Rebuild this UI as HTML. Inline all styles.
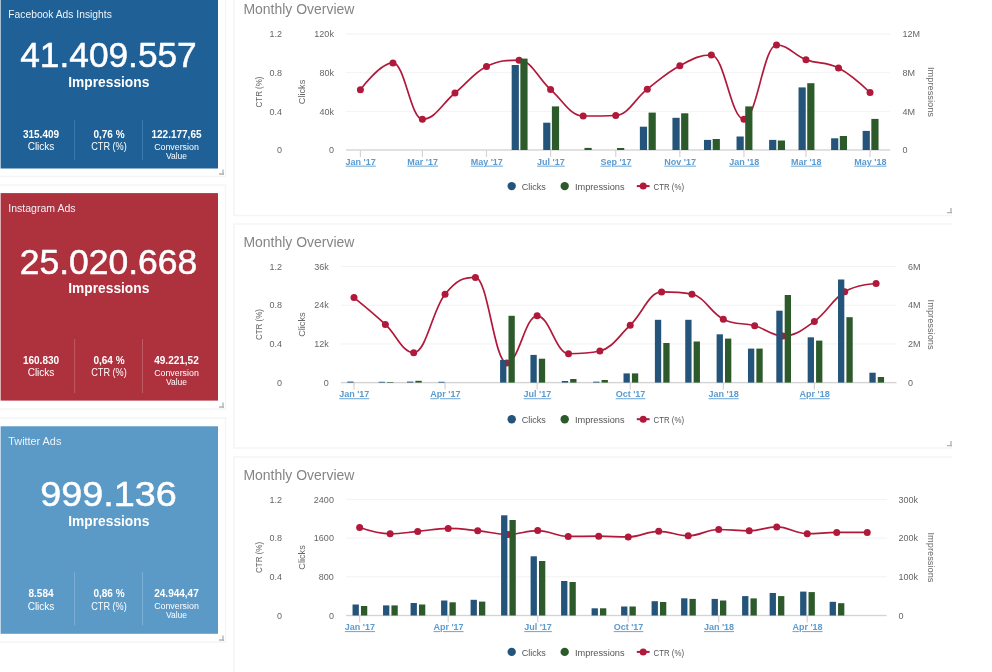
<!DOCTYPE html><html><head><meta charset="utf-8"><style>html,body{margin:0;padding:0;background:#fff;width:992px;height:672px;overflow:hidden}svg{display:block;filter:blur(0.35px);font-family:"Liberation Sans",sans-serif}</style></head><body>
<svg width="992" height="672" viewBox="0 0 992 672">
<g fill="none" stroke="#f5f5f5" stroke-width="1.5">
<path d="M-5,176.5 H225.5 V-5"/>
<rect x="-5" y="185" width="230.5" height="224"/>
<rect x="-5" y="418" width="230.5" height="224"/>
<path d="M234,-5 V215.5 H952"/>
<path d="M952,224 H234 V448 H952"/>
<path d="M234,680 V457 H952"/>
</g>
<rect x="0.6" y="-0.5" width="217.4" height="169" fill="#1f6096"/>
<text x="8.30" y="18.10" font-size="10" fill="#eef3f8" text-anchor="start" font-weight="normal" textLength="103.5" lengthAdjust="spacingAndGlyphs" >Facebook Ads Insights</text>
<text x="108.50" y="67.10" font-size="35.5" fill="#ffffff" text-anchor="middle" font-weight="normal" textLength="176.5" lengthAdjust="spacingAndGlyphs" stroke="#ffffff" stroke-width="0.5">41.409.557</text>
<text x="108.80" y="86.50" font-size="14" fill="#ffffff" text-anchor="middle" font-weight="bold" textLength="81" lengthAdjust="spacingAndGlyphs" >Impressions</text>
<rect x="74.1" y="119.7" width="1" height="40.60000000000001" fill="#3a7bb5"/>
<rect x="142.0" y="119.7" width="1" height="40.60000000000001" fill="#3a7bb5"/>
<text x="41.00" y="137.50" font-size="10" fill="#ffffff" text-anchor="middle" font-weight="bold" >315.409</text>
<text x="41.00" y="150.30" font-size="10" fill="#ffffff" text-anchor="middle" font-weight="normal" >Clicks</text>
<text x="109.00" y="137.50" font-size="10" fill="#ffffff" text-anchor="middle" font-weight="bold" >0,76 %</text>
<text x="109.00" y="150.30" font-size="10" fill="#ffffff" text-anchor="middle" font-weight="normal" textLength="35.6" lengthAdjust="spacingAndGlyphs" >CTR (%)</text>
<text x="176.50" y="137.50" font-size="10" fill="#ffffff" text-anchor="middle" font-weight="bold" >122.177,65</text>
<text x="176.50" y="149.70" font-size="8.5" fill="#ffffff" text-anchor="middle" font-weight="normal" textLength="44.7" lengthAdjust="spacingAndGlyphs" >Conversion</text>
<text x="176.50" y="158.50" font-size="8.5" fill="#ffffff" text-anchor="middle" font-weight="normal" >Value</text>
<rect x="0.6" y="193.1" width="217.4" height="207.5" fill="#ae313e"/>
<text x="8.30" y="211.90" font-size="10" fill="#eef3f8" text-anchor="start" font-weight="normal" textLength="67.3" lengthAdjust="spacingAndGlyphs" >Instagram Ads</text>
<text x="108.50" y="273.50" font-size="35.5" fill="#ffffff" text-anchor="middle" font-weight="normal" textLength="177.5" lengthAdjust="spacingAndGlyphs" stroke="#ffffff" stroke-width="0.5">25.020.668</text>
<text x="108.80" y="293.00" font-size="14" fill="#ffffff" text-anchor="middle" font-weight="bold" textLength="81" lengthAdjust="spacingAndGlyphs" >Impressions</text>
<rect x="74.1" y="339.1" width="1" height="54.0" fill="#c05a64"/>
<rect x="142.0" y="339.1" width="1" height="54.0" fill="#c05a64"/>
<text x="41.00" y="363.50" font-size="10" fill="#ffffff" text-anchor="middle" font-weight="bold" >160.830</text>
<text x="41.00" y="376.30" font-size="10" fill="#ffffff" text-anchor="middle" font-weight="normal" >Clicks</text>
<text x="109.00" y="363.50" font-size="10" fill="#ffffff" text-anchor="middle" font-weight="bold" >0,64 %</text>
<text x="109.00" y="376.30" font-size="10" fill="#ffffff" text-anchor="middle" font-weight="normal" textLength="35.6" lengthAdjust="spacingAndGlyphs" >CTR (%)</text>
<text x="176.50" y="363.50" font-size="10" fill="#ffffff" text-anchor="middle" font-weight="bold" >49.221,52</text>
<text x="176.50" y="375.70" font-size="8.5" fill="#ffffff" text-anchor="middle" font-weight="normal" textLength="44.7" lengthAdjust="spacingAndGlyphs" >Conversion</text>
<text x="176.50" y="384.50" font-size="8.5" fill="#ffffff" text-anchor="middle" font-weight="normal" >Value</text>
<rect x="0.6" y="426.3" width="217.4" height="207.5" fill="#5b99c7"/>
<text x="8.30" y="445.00" font-size="10" fill="#eef3f8" text-anchor="start" font-weight="normal" textLength="53" lengthAdjust="spacingAndGlyphs" >Twitter Ads</text>
<text x="108.50" y="505.70" font-size="35.5" fill="#ffffff" text-anchor="middle" font-weight="normal" textLength="136.6" lengthAdjust="spacingAndGlyphs" stroke="#ffffff" stroke-width="0.5">999.136</text>
<text x="108.80" y="525.80" font-size="14" fill="#ffffff" text-anchor="middle" font-weight="bold" textLength="81" lengthAdjust="spacingAndGlyphs" >Impressions</text>
<rect x="74.1" y="572.2" width="1" height="53.19999999999993" fill="#7db0d6"/>
<rect x="142.0" y="572.2" width="1" height="53.19999999999993" fill="#7db0d6"/>
<text x="41.00" y="596.70" font-size="10" fill="#ffffff" text-anchor="middle" font-weight="bold" >8.584</text>
<text x="41.00" y="609.50" font-size="10" fill="#ffffff" text-anchor="middle" font-weight="normal" >Clicks</text>
<text x="109.00" y="596.70" font-size="10" fill="#ffffff" text-anchor="middle" font-weight="bold" >0,86 %</text>
<text x="109.00" y="609.50" font-size="10" fill="#ffffff" text-anchor="middle" font-weight="normal" textLength="35.6" lengthAdjust="spacingAndGlyphs" >CTR (%)</text>
<text x="176.50" y="596.70" font-size="10" fill="#ffffff" text-anchor="middle" font-weight="bold" >24.944,47</text>
<text x="176.50" y="608.90" font-size="8.5" fill="#ffffff" text-anchor="middle" font-weight="normal" textLength="44.7" lengthAdjust="spacingAndGlyphs" >Conversion</text>
<text x="176.50" y="617.70" font-size="8.5" fill="#ffffff" text-anchor="middle" font-weight="normal" >Value</text>
<path d="M219,174 H224 M223,175 V169.5" stroke="#b4b4b4" stroke-width="1.4" fill="none"/>
<path d="M219,407 H224 M223,408 V402.5" stroke="#b4b4b4" stroke-width="1.4" fill="none"/>
<path d="M219,640 H224 M223,641 V635.5" stroke="#b4b4b4" stroke-width="1.4" fill="none"/>
<path d="M947,212.6 H952 M951,213.6 V208.1" stroke="#b4b4b4" stroke-width="1.4" fill="none"/>
<path d="M947,445.6 H952 M951,446.6 V441.1" stroke="#b4b4b4" stroke-width="1.4" fill="none"/>
<text x="243.40" y="13.70" font-size="14" fill="#858585" text-anchor="start" font-weight="normal" textLength="111" lengthAdjust="spacingAndGlyphs" >Monthly Overview</text>
<rect x="346" y="33.50" width="544.20" height="1" fill="#f2f2f2"/>
<rect x="346" y="72.17" width="544.20" height="1" fill="#f2f2f2"/>
<rect x="346" y="110.83" width="544.20" height="1" fill="#f2f2f2"/>
<rect x="346" y="149.30" width="544.20" height="1.4" fill="#d4d4d4"/>
<text x="282.00" y="37.20" font-size="9" fill="#666666" text-anchor="end" font-weight="normal" >1.2</text>
<text x="282.00" y="75.87" font-size="9" fill="#666666" text-anchor="end" font-weight="normal" >0.8</text>
<text x="282.00" y="114.53" font-size="9" fill="#666666" text-anchor="end" font-weight="normal" >0.4</text>
<text x="282.00" y="153.20" font-size="9" fill="#666666" text-anchor="end" font-weight="normal" >0</text>
<text x="333.90" y="37.20" font-size="9" fill="#666666" text-anchor="end" font-weight="normal" >120k</text>
<text x="333.90" y="75.87" font-size="9" fill="#666666" text-anchor="end" font-weight="normal" >80k</text>
<text x="333.90" y="114.53" font-size="9" fill="#666666" text-anchor="end" font-weight="normal" >40k</text>
<text x="333.90" y="153.20" font-size="9" fill="#666666" text-anchor="end" font-weight="normal" >0</text>
<text x="902.50" y="37.20" font-size="9" fill="#666666" text-anchor="start" font-weight="normal" >12M</text>
<text x="902.50" y="75.87" font-size="9" fill="#666666" text-anchor="start" font-weight="normal" >8M</text>
<text x="902.50" y="114.53" font-size="9" fill="#666666" text-anchor="start" font-weight="normal" >4M</text>
<text x="902.50" y="153.20" font-size="9" fill="#666666" text-anchor="start" font-weight="normal" >0</text>
<text transform="translate(262.2,92.00) rotate(-90)" font-size="9" fill="#666666" text-anchor="middle" textLength="31" lengthAdjust="spacingAndGlyphs">CTR (%)</text>
<text transform="translate(304.8,92.00) rotate(-90)" font-size="9" fill="#666666" text-anchor="middle" textLength="24.5" lengthAdjust="spacingAndGlyphs">Clicks</text>
<text transform="translate(928.2,92.00) rotate(90)" font-size="9" fill="#666666" text-anchor="middle" textLength="50" lengthAdjust="spacingAndGlyphs">Impressions</text>
<rect x="359.80" y="150.00" width="1.2" height="7" fill="#d4d4d4"/>
<text x="360.70" y="164.70" font-size="9" fill="#5b9bd0" text-anchor="middle" font-weight="bold" text-decoration="underline">Jan '17</text>
<rect x="421.80" y="150.00" width="1.2" height="7" fill="#d4d4d4"/>
<text x="422.70" y="164.70" font-size="9" fill="#5b9bd0" text-anchor="middle" font-weight="bold" text-decoration="underline">Mar '17</text>
<rect x="485.90" y="150.00" width="1.2" height="7" fill="#d4d4d4"/>
<text x="486.80" y="164.70" font-size="9" fill="#5b9bd0" text-anchor="middle" font-weight="bold" text-decoration="underline">May '17</text>
<rect x="549.99" y="150.00" width="1.2" height="7" fill="#d4d4d4"/>
<text x="550.89" y="164.70" font-size="9" fill="#5b9bd0" text-anchor="middle" font-weight="bold" text-decoration="underline">Jul '17</text>
<rect x="615.14" y="150.00" width="1.2" height="7" fill="#d4d4d4"/>
<text x="616.04" y="164.70" font-size="9" fill="#5b9bd0" text-anchor="middle" font-weight="bold" text-decoration="underline">Sep '17</text>
<rect x="679.24" y="150.00" width="1.2" height="7" fill="#d4d4d4"/>
<text x="680.14" y="164.70" font-size="9" fill="#5b9bd0" text-anchor="middle" font-weight="bold" text-decoration="underline">Nov '17</text>
<rect x="743.34" y="150.00" width="1.2" height="7" fill="#d4d4d4"/>
<text x="744.24" y="164.70" font-size="9" fill="#5b9bd0" text-anchor="middle" font-weight="bold" text-decoration="underline">Jan '18</text>
<rect x="805.34" y="150.00" width="1.2" height="7" fill="#d4d4d4"/>
<text x="806.24" y="164.70" font-size="9" fill="#5b9bd0" text-anchor="middle" font-weight="bold" text-decoration="underline">Mar '18</text>
<rect x="869.44" y="150.00" width="1.2" height="7" fill="#d4d4d4"/>
<text x="870.34" y="164.70" font-size="9" fill="#5b9bd0" text-anchor="middle" font-weight="bold" text-decoration="underline">May '18</text>
<path d="M360.40,89.70 C360.40,89.70 379.94,62.90 392.97,62.90 C404.74,62.90 410.63,119.20 422.40,119.20 C435.43,119.20 441.94,103.73 454.97,93.00 C467.58,82.61 473.89,72.60 486.50,66.40 C499.53,60.20 506.04,60.20 519.07,60.20 C531.68,60.20 537.99,78.62 550.59,89.60 C563.62,100.94 570.14,116.00 583.17,116.00 C596.20,116.00 602.71,116.00 615.74,115.50 C628.35,115.00 634.66,98.98 647.27,89.20 C660.30,79.10 666.81,72.75 679.84,65.80 C692.45,59.07 698.76,55.00 711.37,55.00 C724.40,55.00 730.91,119.30 743.94,119.30 C756.97,119.30 763.49,45.00 776.52,45.00 C788.29,45.00 794.17,55.33 805.94,59.70 C818.97,64.53 825.48,61.33 838.51,68.00 C851.12,74.45 870.04,92.50 870.04,92.50" fill="none" stroke="#b0193a" stroke-width="1.7"/>
<circle cx="360.40" cy="89.70" r="3.5" fill="#b0193a"/>
<circle cx="392.97" cy="62.90" r="3.5" fill="#b0193a"/>
<circle cx="422.40" cy="119.20" r="3.5" fill="#b0193a"/>
<circle cx="454.97" cy="93.00" r="3.5" fill="#b0193a"/>
<circle cx="486.50" cy="66.40" r="3.5" fill="#b0193a"/>
<circle cx="519.07" cy="60.20" r="3.5" fill="#b0193a"/>
<circle cx="550.59" cy="89.60" r="3.5" fill="#b0193a"/>
<circle cx="583.17" cy="116.00" r="3.5" fill="#b0193a"/>
<circle cx="615.74" cy="115.50" r="3.5" fill="#b0193a"/>
<circle cx="647.27" cy="89.20" r="3.5" fill="#b0193a"/>
<circle cx="679.84" cy="65.80" r="3.5" fill="#b0193a"/>
<circle cx="711.37" cy="55.00" r="3.5" fill="#b0193a"/>
<circle cx="743.94" cy="119.30" r="3.5" fill="#b0193a"/>
<circle cx="776.52" cy="45.00" r="3.5" fill="#b0193a"/>
<circle cx="805.94" cy="59.70" r="3.5" fill="#b0193a"/>
<circle cx="838.51" cy="68.00" r="3.5" fill="#b0193a"/>
<circle cx="870.04" cy="92.50" r="3.5" fill="#b0193a"/>
<rect x="511.67" y="65.00" width="7.2" height="85.00" fill="#245479"/>
<rect x="520.37" y="58.60" width="7.2" height="91.40" fill="#2c5a2a"/>
<rect x="543.19" y="122.70" width="7.2" height="27.30" fill="#245479"/>
<rect x="551.89" y="106.40" width="7.2" height="43.60" fill="#2c5a2a"/>
<rect x="584.47" y="147.90" width="7.2" height="2.10" fill="#2c5a2a"/>
<rect x="617.04" y="148.00" width="7.2" height="2.00" fill="#2c5a2a"/>
<rect x="639.87" y="126.70" width="7.2" height="23.30" fill="#245479"/>
<rect x="648.57" y="112.60" width="7.2" height="37.40" fill="#2c5a2a"/>
<rect x="672.44" y="117.80" width="7.2" height="32.20" fill="#245479"/>
<rect x="681.14" y="113.30" width="7.2" height="36.70" fill="#2c5a2a"/>
<rect x="703.97" y="139.90" width="7.2" height="10.10" fill="#245479"/>
<rect x="712.67" y="139.00" width="7.2" height="11.00" fill="#2c5a2a"/>
<rect x="736.54" y="136.50" width="7.2" height="13.50" fill="#245479"/>
<rect x="745.24" y="106.40" width="7.2" height="43.60" fill="#2c5a2a"/>
<rect x="769.12" y="139.90" width="7.2" height="10.10" fill="#245479"/>
<rect x="777.82" y="140.50" width="7.2" height="9.50" fill="#2c5a2a"/>
<rect x="798.54" y="87.40" width="7.2" height="62.60" fill="#245479"/>
<rect x="807.24" y="83.20" width="7.2" height="66.80" fill="#2c5a2a"/>
<rect x="831.11" y="138.30" width="7.2" height="11.70" fill="#245479"/>
<rect x="839.81" y="136.00" width="7.2" height="14.00" fill="#2c5a2a"/>
<rect x="862.64" y="130.90" width="7.2" height="19.10" fill="#245479"/>
<rect x="871.34" y="118.90" width="7.2" height="31.10" fill="#2c5a2a"/>
<circle cx="511.7" cy="186.10" r="4.2" fill="#245479"/>
<text x="521.70" y="189.70" font-size="9" fill="#555" text-anchor="start" font-weight="normal" textLength="24.2" lengthAdjust="spacingAndGlyphs" >Clicks</text>
<circle cx="564.7" cy="186.10" r="4.2" fill="#2c5a2a"/>
<text x="574.90" y="189.70" font-size="9" fill="#555" text-anchor="start" font-weight="normal" textLength="49.7" lengthAdjust="spacingAndGlyphs" >Impressions</text>
<rect x="636.8" y="185.10" width="12.8" height="2" fill="#b0193a"/>
<circle cx="643.2" cy="186.10" r="3.5" fill="#b0193a"/>
<text x="653.60" y="189.70" font-size="9" fill="#555" text-anchor="start" font-weight="normal" textLength="30.4" lengthAdjust="spacingAndGlyphs" >CTR (%)</text>
<text x="243.40" y="247.10" font-size="14" fill="#858585" text-anchor="start" font-weight="normal" textLength="111" lengthAdjust="spacingAndGlyphs" >Monthly Overview</text>
<rect x="341" y="266.10" width="555.50" height="1" fill="#f2f2f2"/>
<rect x="341" y="304.77" width="555.50" height="1" fill="#f2f2f2"/>
<rect x="341" y="343.43" width="555.50" height="1" fill="#f2f2f2"/>
<rect x="341" y="381.90" width="555.50" height="1.4" fill="#d4d4d4"/>
<text x="282.00" y="269.80" font-size="9" fill="#666666" text-anchor="end" font-weight="normal" >1.2</text>
<text x="282.00" y="308.47" font-size="9" fill="#666666" text-anchor="end" font-weight="normal" >0.8</text>
<text x="282.00" y="347.13" font-size="9" fill="#666666" text-anchor="end" font-weight="normal" >0.4</text>
<text x="282.00" y="385.80" font-size="9" fill="#666666" text-anchor="end" font-weight="normal" >0</text>
<text x="328.70" y="269.80" font-size="9" fill="#666666" text-anchor="end" font-weight="normal" >36k</text>
<text x="328.70" y="308.47" font-size="9" fill="#666666" text-anchor="end" font-weight="normal" >24k</text>
<text x="328.70" y="347.13" font-size="9" fill="#666666" text-anchor="end" font-weight="normal" >12k</text>
<text x="328.70" y="385.80" font-size="9" fill="#666666" text-anchor="end" font-weight="normal" >0</text>
<text x="907.90" y="269.80" font-size="9" fill="#666666" text-anchor="start" font-weight="normal" >6M</text>
<text x="907.90" y="308.47" font-size="9" fill="#666666" text-anchor="start" font-weight="normal" >4M</text>
<text x="907.90" y="347.13" font-size="9" fill="#666666" text-anchor="start" font-weight="normal" >2M</text>
<text x="907.90" y="385.80" font-size="9" fill="#666666" text-anchor="start" font-weight="normal" >0</text>
<text transform="translate(262.2,324.60) rotate(-90)" font-size="9" fill="#666666" text-anchor="middle" textLength="31" lengthAdjust="spacingAndGlyphs">CTR (%)</text>
<text transform="translate(304.8,324.60) rotate(-90)" font-size="9" fill="#666666" text-anchor="middle" textLength="24.5" lengthAdjust="spacingAndGlyphs">Clicks</text>
<text transform="translate(928.2,324.60) rotate(90)" font-size="9" fill="#666666" text-anchor="middle" textLength="50" lengthAdjust="spacingAndGlyphs">Impressions</text>
<rect x="353.40" y="382.60" width="1.2" height="7" fill="#d4d4d4"/>
<text x="354.30" y="397.30" font-size="9" fill="#5b9bd0" text-anchor="middle" font-weight="bold" text-decoration="underline">Jan '17</text>
<rect x="444.46" y="382.60" width="1.2" height="7" fill="#d4d4d4"/>
<text x="445.36" y="397.30" font-size="9" fill="#5b9bd0" text-anchor="middle" font-weight="bold" text-decoration="underline">Apr '17</text>
<rect x="536.54" y="382.60" width="1.2" height="7" fill="#d4d4d4"/>
<text x="537.44" y="397.30" font-size="9" fill="#5b9bd0" text-anchor="middle" font-weight="bold" text-decoration="underline">Jul '17</text>
<rect x="629.62" y="382.60" width="1.2" height="7" fill="#d4d4d4"/>
<text x="630.52" y="397.30" font-size="9" fill="#5b9bd0" text-anchor="middle" font-weight="bold" text-decoration="underline">Oct '17</text>
<rect x="722.71" y="382.60" width="1.2" height="7" fill="#d4d4d4"/>
<text x="723.61" y="397.30" font-size="9" fill="#5b9bd0" text-anchor="middle" font-weight="bold" text-decoration="underline">Jan '18</text>
<rect x="813.77" y="382.60" width="1.2" height="7" fill="#d4d4d4"/>
<text x="814.67" y="397.30" font-size="9" fill="#5b9bd0" text-anchor="middle" font-weight="bold" text-decoration="underline">Apr '18</text>
<path d="M354.00,297.60 C354.00,297.60 372.82,312.82 385.37,324.40 C396.70,334.86 402.36,352.70 413.70,352.70 C426.24,352.70 432.52,309.51 445.06,294.20 C457.20,279.39 463.27,277.40 475.42,277.40 C487.96,277.40 494.24,363.00 506.78,363.00 C518.92,363.00 524.99,315.80 537.14,315.80 C549.68,315.80 555.96,353.75 568.50,353.75 C581.05,353.75 587.32,353.75 599.87,351.00 C612.01,348.25 618.08,336.83 630.22,325.20 C642.77,313.19 649.04,291.90 661.59,291.90 C673.73,291.90 679.80,291.90 691.94,294.20 C704.49,296.50 710.76,312.88 723.31,319.20 C735.85,325.52 742.13,322.27 754.67,325.80 C766.00,328.99 771.67,336.00 783.00,336.00 C795.55,336.00 801.82,330.38 814.37,321.40 C826.51,312.70 832.58,299.26 844.72,291.80 C857.27,284.10 876.09,283.50 876.09,283.50" fill="none" stroke="#b0193a" stroke-width="1.7"/>
<circle cx="354.00" cy="297.60" r="3.5" fill="#b0193a"/>
<circle cx="385.37" cy="324.40" r="3.5" fill="#b0193a"/>
<circle cx="413.70" cy="352.70" r="3.5" fill="#b0193a"/>
<circle cx="445.06" cy="294.20" r="3.5" fill="#b0193a"/>
<circle cx="475.42" cy="277.40" r="3.5" fill="#b0193a"/>
<circle cx="506.78" cy="363.00" r="3.5" fill="#b0193a"/>
<circle cx="537.14" cy="315.80" r="3.5" fill="#b0193a"/>
<circle cx="568.50" cy="353.75" r="3.5" fill="#b0193a"/>
<circle cx="599.87" cy="351.00" r="3.5" fill="#b0193a"/>
<circle cx="630.22" cy="325.20" r="3.5" fill="#b0193a"/>
<circle cx="661.59" cy="291.90" r="3.5" fill="#b0193a"/>
<circle cx="691.94" cy="294.20" r="3.5" fill="#b0193a"/>
<circle cx="723.31" cy="319.20" r="3.5" fill="#b0193a"/>
<circle cx="754.67" cy="325.80" r="3.5" fill="#b0193a"/>
<circle cx="783.00" cy="336.00" r="3.5" fill="#b0193a"/>
<circle cx="814.37" cy="321.40" r="3.5" fill="#b0193a"/>
<circle cx="844.72" cy="291.80" r="3.5" fill="#b0193a"/>
<circle cx="876.09" cy="283.50" r="3.5" fill="#b0193a"/>
<rect x="347.30" y="381.60" width="6.3" height="1.00" fill="#245479"/>
<rect x="378.67" y="381.80" width="6.3" height="0.80" fill="#245479"/>
<rect x="387.07" y="382.00" width="6.3" height="0.60" fill="#2c5a2a"/>
<rect x="407.00" y="381.60" width="6.3" height="1.00" fill="#245479"/>
<rect x="415.40" y="380.80" width="6.3" height="1.80" fill="#2c5a2a"/>
<rect x="438.36" y="381.80" width="6.3" height="0.80" fill="#245479"/>
<rect x="500.08" y="360.00" width="6.3" height="22.60" fill="#245479"/>
<rect x="508.48" y="315.80" width="6.3" height="66.80" fill="#2c5a2a"/>
<rect x="530.44" y="354.90" width="6.3" height="27.70" fill="#245479"/>
<rect x="538.84" y="358.70" width="6.3" height="23.90" fill="#2c5a2a"/>
<rect x="561.80" y="381.00" width="6.3" height="1.60" fill="#245479"/>
<rect x="570.20" y="379.00" width="6.3" height="3.60" fill="#2c5a2a"/>
<rect x="593.17" y="381.70" width="6.3" height="0.90" fill="#245479"/>
<rect x="601.57" y="380.00" width="6.3" height="2.60" fill="#2c5a2a"/>
<rect x="623.52" y="373.40" width="6.3" height="9.20" fill="#245479"/>
<rect x="631.92" y="373.40" width="6.3" height="9.20" fill="#2c5a2a"/>
<rect x="654.89" y="319.80" width="6.3" height="62.80" fill="#245479"/>
<rect x="663.29" y="343.00" width="6.3" height="39.60" fill="#2c5a2a"/>
<rect x="685.24" y="319.80" width="6.3" height="62.80" fill="#245479"/>
<rect x="693.64" y="341.50" width="6.3" height="41.10" fill="#2c5a2a"/>
<rect x="716.61" y="334.30" width="6.3" height="48.30" fill="#245479"/>
<rect x="725.01" y="338.60" width="6.3" height="44.00" fill="#2c5a2a"/>
<rect x="747.97" y="348.60" width="6.3" height="34.00" fill="#245479"/>
<rect x="756.37" y="348.60" width="6.3" height="34.00" fill="#2c5a2a"/>
<rect x="776.30" y="310.70" width="6.3" height="71.90" fill="#245479"/>
<rect x="784.70" y="295.00" width="6.3" height="87.60" fill="#2c5a2a"/>
<rect x="807.67" y="337.30" width="6.3" height="45.30" fill="#245479"/>
<rect x="816.07" y="340.60" width="6.3" height="42.00" fill="#2c5a2a"/>
<rect x="838.02" y="279.50" width="6.3" height="103.10" fill="#245479"/>
<rect x="846.42" y="317.20" width="6.3" height="65.40" fill="#2c5a2a"/>
<rect x="869.39" y="372.70" width="6.3" height="9.90" fill="#245479"/>
<rect x="877.79" y="377.00" width="6.3" height="5.60" fill="#2c5a2a"/>
<circle cx="511.7" cy="419.20" r="4.2" fill="#245479"/>
<text x="521.70" y="422.80" font-size="9" fill="#555" text-anchor="start" font-weight="normal" textLength="24.2" lengthAdjust="spacingAndGlyphs" >Clicks</text>
<circle cx="564.7" cy="419.20" r="4.2" fill="#2c5a2a"/>
<text x="574.90" y="422.80" font-size="9" fill="#555" text-anchor="start" font-weight="normal" textLength="49.7" lengthAdjust="spacingAndGlyphs" >Impressions</text>
<rect x="636.8" y="418.20" width="12.8" height="2" fill="#b0193a"/>
<circle cx="643.2" cy="419.20" r="3.5" fill="#b0193a"/>
<text x="653.60" y="422.80" font-size="9" fill="#555" text-anchor="start" font-weight="normal" textLength="30.4" lengthAdjust="spacingAndGlyphs" >CTR (%)</text>
<text x="243.40" y="480.10" font-size="14" fill="#858585" text-anchor="start" font-weight="normal" textLength="111" lengthAdjust="spacingAndGlyphs" >Monthly Overview</text>
<rect x="346" y="498.90" width="540.60" height="1" fill="#f2f2f2"/>
<rect x="346" y="537.60" width="540.60" height="1" fill="#f2f2f2"/>
<rect x="346" y="576.30" width="540.60" height="1" fill="#f2f2f2"/>
<rect x="346" y="614.80" width="540.60" height="1.4" fill="#d4d4d4"/>
<text x="282.00" y="502.60" font-size="9" fill="#666666" text-anchor="end" font-weight="normal" >1.2</text>
<text x="282.00" y="541.30" font-size="9" fill="#666666" text-anchor="end" font-weight="normal" >0.8</text>
<text x="282.00" y="580.00" font-size="9" fill="#666666" text-anchor="end" font-weight="normal" >0.4</text>
<text x="282.00" y="618.70" font-size="9" fill="#666666" text-anchor="end" font-weight="normal" >0</text>
<text x="333.90" y="502.60" font-size="9" fill="#666666" text-anchor="end" font-weight="normal" >2400</text>
<text x="333.90" y="541.30" font-size="9" fill="#666666" text-anchor="end" font-weight="normal" >1600</text>
<text x="333.90" y="580.00" font-size="9" fill="#666666" text-anchor="end" font-weight="normal" >800</text>
<text x="333.90" y="618.70" font-size="9" fill="#666666" text-anchor="end" font-weight="normal" >0</text>
<text x="898.40" y="502.60" font-size="9" fill="#666666" text-anchor="start" font-weight="normal" >300k</text>
<text x="898.40" y="541.30" font-size="9" fill="#666666" text-anchor="start" font-weight="normal" >200k</text>
<text x="898.40" y="580.00" font-size="9" fill="#666666" text-anchor="start" font-weight="normal" >100k</text>
<text x="898.40" y="618.70" font-size="9" fill="#666666" text-anchor="start" font-weight="normal" >0</text>
<text transform="translate(262.2,557.45) rotate(-90)" font-size="9" fill="#666666" text-anchor="middle" textLength="31" lengthAdjust="spacingAndGlyphs">CTR (%)</text>
<text transform="translate(304.8,557.45) rotate(-90)" font-size="9" fill="#666666" text-anchor="middle" textLength="24.5" lengthAdjust="spacingAndGlyphs">Clicks</text>
<text transform="translate(928.2,557.45) rotate(90)" font-size="9" fill="#666666" text-anchor="middle" textLength="50" lengthAdjust="spacingAndGlyphs">Impressions</text>
<rect x="359.05" y="615.50" width="1.2" height="7" fill="#d4d4d4"/>
<text x="359.95" y="630.20" font-size="9" fill="#5b9bd0" text-anchor="middle" font-weight="bold" text-decoration="underline">Jan '17</text>
<rect x="447.58" y="615.50" width="1.2" height="7" fill="#d4d4d4"/>
<text x="448.48" y="630.20" font-size="9" fill="#5b9bd0" text-anchor="middle" font-weight="bold" text-decoration="underline">Apr '17</text>
<rect x="537.10" y="615.50" width="1.2" height="7" fill="#d4d4d4"/>
<text x="538.00" y="630.20" font-size="9" fill="#5b9bd0" text-anchor="middle" font-weight="bold" text-decoration="underline">Jul '17</text>
<rect x="627.60" y="615.50" width="1.2" height="7" fill="#d4d4d4"/>
<text x="628.50" y="630.20" font-size="9" fill="#5b9bd0" text-anchor="middle" font-weight="bold" text-decoration="underline">Oct '17</text>
<rect x="718.10" y="615.50" width="1.2" height="7" fill="#d4d4d4"/>
<text x="719.00" y="630.20" font-size="9" fill="#5b9bd0" text-anchor="middle" font-weight="bold" text-decoration="underline">Jan '18</text>
<rect x="806.63" y="615.50" width="1.2" height="7" fill="#d4d4d4"/>
<text x="807.53" y="630.20" font-size="9" fill="#5b9bd0" text-anchor="middle" font-weight="bold" text-decoration="underline">Apr '18</text>
<path d="M359.65,527.50 C359.65,527.50 377.95,533.80 390.14,533.80 C401.16,533.80 406.67,532.43 417.69,531.40 C429.89,530.27 435.99,528.40 448.18,528.40 C459.99,528.40 465.89,529.52 477.69,530.70 C489.89,531.92 495.99,534.40 508.19,534.40 C519.99,534.40 525.90,530.60 537.70,530.60 C549.90,530.60 556.00,536.40 568.19,536.40 C580.39,536.40 586.49,536.20 598.69,536.20 C610.49,536.20 616.40,536.90 628.20,536.90 C640.40,536.90 646.50,531.30 658.69,531.30 C670.50,531.30 676.40,535.80 688.21,535.80 C700.40,535.80 706.50,529.50 718.70,529.50 C730.90,529.50 737.00,530.80 749.20,530.80 C760.21,530.80 765.72,526.90 776.74,526.90 C788.94,526.90 795.04,533.70 807.23,533.70 C819.04,533.70 824.94,532.40 836.74,532.40 C848.94,532.40 867.24,532.40 867.24,532.40" fill="none" stroke="#b0193a" stroke-width="1.7"/>
<circle cx="359.65" cy="527.50" r="3.5" fill="#b0193a"/>
<circle cx="390.14" cy="533.80" r="3.5" fill="#b0193a"/>
<circle cx="417.69" cy="531.40" r="3.5" fill="#b0193a"/>
<circle cx="448.18" cy="528.40" r="3.5" fill="#b0193a"/>
<circle cx="477.69" cy="530.70" r="3.5" fill="#b0193a"/>
<circle cx="508.19" cy="534.40" r="3.5" fill="#b0193a"/>
<circle cx="537.70" cy="530.60" r="3.5" fill="#b0193a"/>
<circle cx="568.19" cy="536.40" r="3.5" fill="#b0193a"/>
<circle cx="598.69" cy="536.20" r="3.5" fill="#b0193a"/>
<circle cx="628.20" cy="536.90" r="3.5" fill="#b0193a"/>
<circle cx="658.69" cy="531.30" r="3.5" fill="#b0193a"/>
<circle cx="688.21" cy="535.80" r="3.5" fill="#b0193a"/>
<circle cx="718.70" cy="529.50" r="3.5" fill="#b0193a"/>
<circle cx="749.20" cy="530.80" r="3.5" fill="#b0193a"/>
<circle cx="776.74" cy="526.90" r="3.5" fill="#b0193a"/>
<circle cx="807.23" cy="533.70" r="3.5" fill="#b0193a"/>
<circle cx="836.74" cy="532.40" r="3.5" fill="#b0193a"/>
<circle cx="867.24" cy="532.40" r="3.5" fill="#b0193a"/>
<rect x="352.55" y="604.50" width="6.3" height="11.00" fill="#245479"/>
<rect x="360.95" y="606.00" width="6.3" height="9.50" fill="#2c5a2a"/>
<rect x="383.04" y="605.40" width="6.3" height="10.10" fill="#245479"/>
<rect x="391.44" y="605.40" width="6.3" height="10.10" fill="#2c5a2a"/>
<rect x="410.59" y="603.00" width="6.3" height="12.50" fill="#245479"/>
<rect x="418.99" y="604.50" width="6.3" height="11.00" fill="#2c5a2a"/>
<rect x="441.08" y="600.50" width="6.3" height="15.00" fill="#245479"/>
<rect x="449.48" y="602.30" width="6.3" height="13.20" fill="#2c5a2a"/>
<rect x="470.59" y="599.80" width="6.3" height="15.70" fill="#245479"/>
<rect x="478.99" y="601.60" width="6.3" height="13.90" fill="#2c5a2a"/>
<rect x="501.09" y="515.30" width="6.3" height="100.20" fill="#245479"/>
<rect x="509.49" y="520.00" width="6.3" height="95.50" fill="#2c5a2a"/>
<rect x="530.60" y="556.30" width="6.3" height="59.20" fill="#245479"/>
<rect x="539.00" y="561.00" width="6.3" height="54.50" fill="#2c5a2a"/>
<rect x="561.09" y="581.00" width="6.3" height="34.50" fill="#245479"/>
<rect x="569.49" y="582.00" width="6.3" height="33.50" fill="#2c5a2a"/>
<rect x="591.59" y="608.30" width="6.3" height="7.20" fill="#245479"/>
<rect x="599.99" y="608.30" width="6.3" height="7.20" fill="#2c5a2a"/>
<rect x="621.10" y="606.50" width="6.3" height="9.00" fill="#245479"/>
<rect x="629.50" y="606.50" width="6.3" height="9.00" fill="#2c5a2a"/>
<rect x="651.59" y="601.20" width="6.3" height="14.30" fill="#245479"/>
<rect x="659.99" y="602.00" width="6.3" height="13.50" fill="#2c5a2a"/>
<rect x="681.11" y="598.30" width="6.3" height="17.20" fill="#245479"/>
<rect x="689.51" y="598.90" width="6.3" height="16.60" fill="#2c5a2a"/>
<rect x="711.60" y="598.90" width="6.3" height="16.60" fill="#245479"/>
<rect x="720.00" y="600.50" width="6.3" height="15.00" fill="#2c5a2a"/>
<rect x="742.10" y="596.10" width="6.3" height="19.40" fill="#245479"/>
<rect x="750.50" y="598.40" width="6.3" height="17.10" fill="#2c5a2a"/>
<rect x="769.64" y="593.00" width="6.3" height="22.50" fill="#245479"/>
<rect x="778.04" y="596.10" width="6.3" height="19.40" fill="#2c5a2a"/>
<rect x="800.13" y="591.60" width="6.3" height="23.90" fill="#245479"/>
<rect x="808.53" y="592.10" width="6.3" height="23.40" fill="#2c5a2a"/>
<rect x="829.64" y="601.80" width="6.3" height="13.70" fill="#245479"/>
<rect x="838.04" y="603.20" width="6.3" height="12.30" fill="#2c5a2a"/>
<circle cx="511.7" cy="651.90" r="4.2" fill="#245479"/>
<text x="521.70" y="655.50" font-size="9" fill="#555" text-anchor="start" font-weight="normal" textLength="24.2" lengthAdjust="spacingAndGlyphs" >Clicks</text>
<circle cx="564.7" cy="651.90" r="4.2" fill="#2c5a2a"/>
<text x="574.90" y="655.50" font-size="9" fill="#555" text-anchor="start" font-weight="normal" textLength="49.7" lengthAdjust="spacingAndGlyphs" >Impressions</text>
<rect x="636.8" y="650.90" width="12.8" height="2" fill="#b0193a"/>
<circle cx="643.2" cy="651.90" r="3.5" fill="#b0193a"/>
<text x="653.60" y="655.50" font-size="9" fill="#555" text-anchor="start" font-weight="normal" textLength="30.4" lengthAdjust="spacingAndGlyphs" >CTR (%)</text>
</svg></body></html>
